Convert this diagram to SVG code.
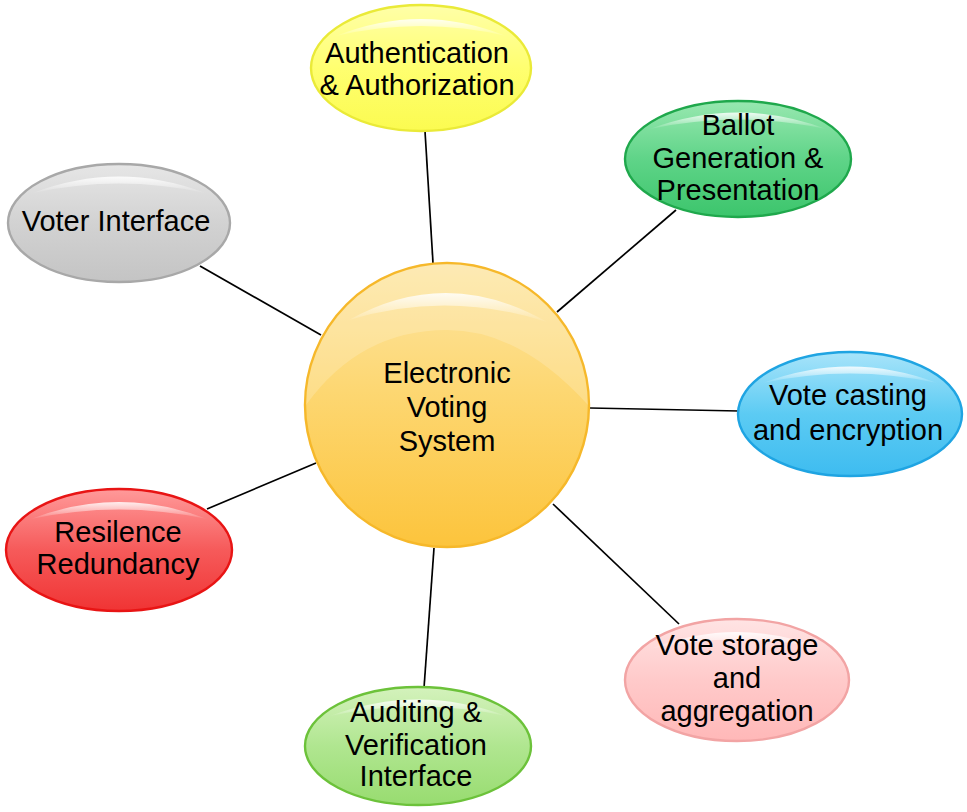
<svg xmlns="http://www.w3.org/2000/svg" width="967" height="812" viewBox="0 0 967 812">
<style>
.lbl{font-family:"Liberation Sans",Arial,sans-serif;font-size:29px;fill:#000;text-anchor:middle}
.conn line{stroke:#000;stroke-width:1.7}
.node ellipse.b,.node circle.b{stroke-width:2.4}
</style>
<defs>
<linearGradient id="hl" x1="0" y1="0" x2="0" y2="1">
<stop offset="0" stop-color="#fff" stop-opacity="0.85"/>
<stop offset="1" stop-color="#fff" stop-opacity="0.05"/>
</linearGradient>
<linearGradient id="gGray" x1="0" y1="0" x2="0" y2="1"><stop offset="0" stop-color="#e6e6e6"/><stop offset="0.5" stop-color="#d2d2d2"/><stop offset="1" stop-color="#c4c4c4"/></linearGradient>
<linearGradient id="gYel" x1="0" y1="0" x2="0" y2="1"><stop offset="0" stop-color="#ffffa8"/><stop offset="0.5" stop-color="#ffff70"/><stop offset="1" stop-color="#fbfb50"/></linearGradient>
<linearGradient id="gGrn" x1="0" y1="0" x2="0" y2="1"><stop offset="0" stop-color="#98e8b0"/><stop offset="0.5" stop-color="#5fd488"/><stop offset="1" stop-color="#3cc56c"/></linearGradient>
<linearGradient id="gBlu" x1="0" y1="0" x2="0" y2="1"><stop offset="0" stop-color="#a8e4fa"/><stop offset="0.5" stop-color="#5ccbf3"/><stop offset="1" stop-color="#3ebcf0"/></linearGradient>
<linearGradient id="gPnk" x1="0" y1="0" x2="0" y2="1"><stop offset="0" stop-color="#ffe4e4"/><stop offset="0.5" stop-color="#ffcaca"/><stop offset="1" stop-color="#ffb8b8"/></linearGradient>
<linearGradient id="gLgr" x1="0" y1="0" x2="0" y2="1"><stop offset="0" stop-color="#d4f2bc"/><stop offset="0.5" stop-color="#b0e690"/><stop offset="1" stop-color="#98dc70"/></linearGradient>
<linearGradient id="gRed" x1="0" y1="0" x2="0" y2="1"><stop offset="0" stop-color="#ff9a9a"/><stop offset="0.5" stop-color="#f65a5a"/><stop offset="1" stop-color="#f03434"/></linearGradient>
<linearGradient id="gOrg" x1="0" y1="0" x2="0" y2="1"><stop offset="0" stop-color="#fde6a4"/><stop offset="0.45" stop-color="#fdd772"/><stop offset="1" stop-color="#fcc43c"/></linearGradient>
</defs>
<rect width="967" height="812" fill="#fff"/>
<g id="connectors" class="conn">
<line x1="433" y1="263" x2="425" y2="131"/>
<line x1="557" y1="312" x2="676" y2="210"/>
<line x1="321" y1="335" x2="200" y2="266"/>
<line x1="590" y1="408" x2="739" y2="411"/>
<line x1="553" y1="504" x2="679" y2="624"/>
<line x1="434" y1="548" x2="424" y2="688"/>
<line x1="316" y1="463" x2="207" y2="509"/>
</g>
<g id="center" class="node">
<circle class="b" cx="447" cy="405" r="142" fill="url(#gOrg)" stroke="#f6b82a"/>
<path d="M306,405 A141,141 0 0 1 588,405 Q520,330 447,330 Q360,330 306,405 Z" fill="#fff" opacity="0.18"/>
<path d="M349,320 Q447,265 547,322 Q447,290 349,320 Z" fill="url(#hl)"/>
<text class="lbl" x="447" y="383">Electronic</text>
<text class="lbl" x="447" y="417">Voting</text>
<text class="lbl" x="447" y="451">System</text>
</g>
<g id="auth" class="node">
<ellipse class="b" cx="421" cy="68" rx="110" ry="63" fill="url(#gYel)" stroke="#eaea38"/>
<path d="M336,36 Q421,2 506,36 Q421,16 336,36 Z" fill="url(#hl)"/>
<text class="lbl" x="417" y="63">Authentication</text>
<text class="lbl" x="417" y="95">&amp; Authorization</text>
</g>
<g id="ballot" class="node">
<ellipse class="b" cx="738" cy="159" rx="113" ry="58" fill="url(#gGrn)" stroke="#1fa84c"/>
<path d="M650,129 Q738,96 826,129 Q738,110 650,129 Z" fill="url(#hl)"/>
<text class="lbl" x="738" y="135">Ballot</text>
<text class="lbl" x="738" y="168">Generation &amp;</text>
<text class="lbl" x="738" y="200">Presentation</text>
</g>
<g id="voter" class="node">
<ellipse class="b" cx="119" cy="223" rx="111" ry="59" fill="url(#gGray)" stroke="#a8a8a8"/>
<path d="M33,193 Q119,160 205,193 Q119,174 33,193 Z" fill="url(#hl)"/>
<text class="lbl" x="116" y="231">Voter Interface</text>
</g>
<g id="casting" class="node">
<ellipse class="b" cx="850" cy="414" rx="112" ry="62" fill="url(#gBlu)" stroke="#1fa4e2"/>
<path d="M763,383 Q850,350 937,383 Q850,364 763,383 Z" fill="url(#hl)"/>
<text class="lbl" x="848" y="405">Vote casting</text>
<text class="lbl" x="848" y="440">and encryption</text>
</g>
<g id="storage" class="node">
<ellipse class="b" cx="737" cy="680" rx="112" ry="61" fill="url(#gPnk)" stroke="#f2a4a4"/>
<path d="M650,649 Q737,615 824,649 Q737,630 650,649 Z" fill="url(#hl)"/>
<text class="lbl" x="737" y="655">Vote storage</text>
<text class="lbl" x="737" y="688">and</text>
<text class="lbl" x="737" y="721">aggregation</text>
</g>
<g id="auditing" class="node">
<ellipse class="b" cx="418" cy="746" rx="113" ry="59" fill="url(#gLgr)" stroke="#6cc23a"/>
<path d="M330,716 Q418,683 506,716 Q418,697 330,716 Z" fill="url(#hl)"/>
<text class="lbl" x="416" y="722">Auditing &amp;</text>
<text class="lbl" x="416" y="755">Verification</text>
<text class="lbl" x="416" y="786">Interface</text>
</g>
<g id="resilence" class="node">
<ellipse class="b" cx="119" cy="550" rx="113" ry="61" fill="url(#gRed)" stroke="#e81414"/>
<path d="M31,519 Q119,485 207,519 Q119,500 31,519 Z" fill="url(#hl)"/>
<text class="lbl" x="118" y="542">Resilence</text>
<text class="lbl" x="118" y="574">Redundancy</text>
</g>
</svg>
